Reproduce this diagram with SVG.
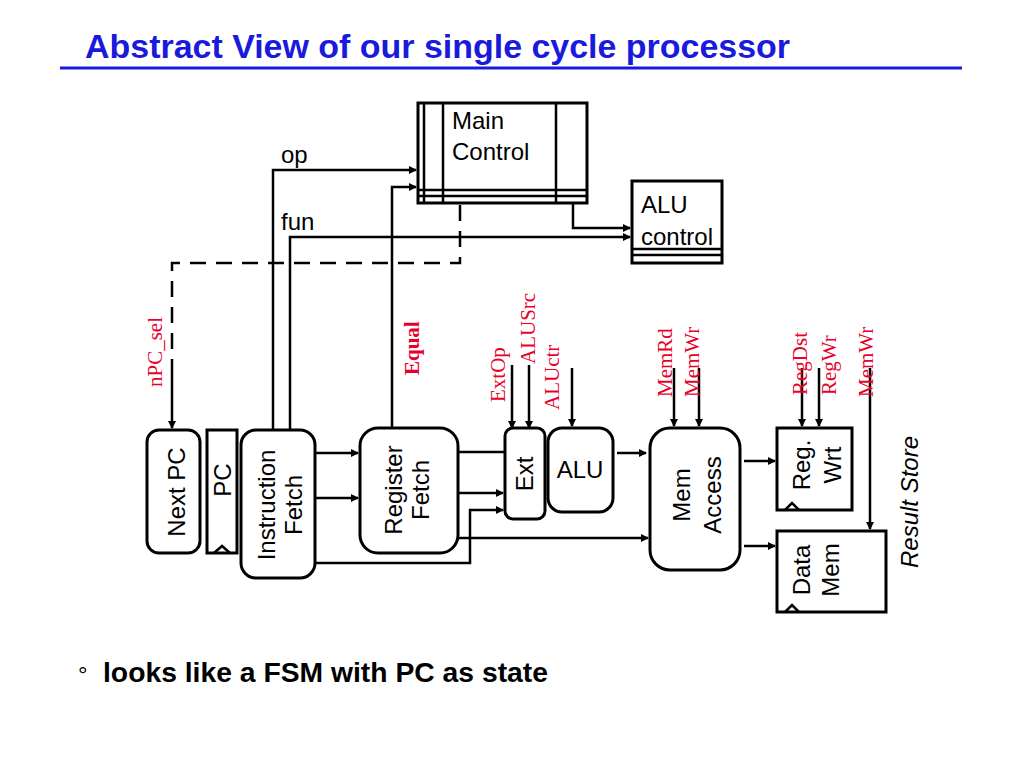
<svg xmlns="http://www.w3.org/2000/svg" width="1024" height="768" viewBox="0 0 1024 768">
<style>
.b{fill:#fff;stroke:#000;stroke-width:3}
.l{fill:none;stroke:#000;stroke-width:2.5}
.d{fill:none;stroke:#000;stroke-width:2.5;stroke-dasharray:16 10}
.t{font-family:"Liberation Sans",Arial,sans-serif;font-size:24px;fill:#000}
.r{font-family:"Liberation Serif","Times New Roman",serif;font-size:21px;fill:#e8002a}
</style>
<defs><marker id="a" markerWidth="8" markerHeight="8" refX="7" refY="4" orient="auto" markerUnits="userSpaceOnUse"><path d="M0,0L8,4L0,8z" fill="#000"/></marker></defs>
<rect width="1024" height="768" fill="#fff"/>
<text x="85" y="58" font-family="Liberation Sans,Arial,sans-serif" font-size="33" font-weight="bold" fill="#1a1adc" textLength="705" lengthAdjust="spacingAndGlyphs">Abstract View of our single cycle processor</text>
<line x1="60" y1="68" x2="962" y2="68" stroke="#1a1adc" stroke-width="3"/>
<g id="connectors">
<path class="l" d="M273,430V170H416" marker-end="url(#a)"/>
<path class="l" d="M392,428V187H416" marker-end="url(#a)"/>
<path class="l" d="M290,430V237H630" marker-end="url(#a)"/>
<path class="l" d="M573,203V228H630" marker-end="url(#a)"/>
<path class="d" d="M460,205V263H172V360"/>
<path class="l" d="M172,360V428" marker-end="url(#a)"/>
<path class="l" d="M315,453H358" marker-end="url(#a)"/>
<path class="l" d="M315,498H358" marker-end="url(#a)"/>
<path class="l" d="M458,452H546" marker-end="url(#a)"/>
<path class="l" d="M458,493H503" marker-end="url(#a)"/>
<path class="l" d="M315,563H470V510H503" marker-end="url(#a)"/>
<path class="l" d="M458,538H648" marker-end="url(#a)"/>
<path class="l" d="M617,453H646" marker-end="url(#a)"/>
<path class="l" d="M744,461H775" marker-end="url(#a)"/>
<path class="l" d="M744,546H775" marker-end="url(#a)"/>
<path class="l" d="M512,365V428" marker-end="url(#a)"/>
<path class="l" d="M529,365V428" marker-end="url(#a)"/>
<path class="l" d="M572,368V426" marker-end="url(#a)"/>
<path class="l" d="M674,368V426" marker-end="url(#a)"/>
<path class="l" d="M699,368V426" marker-end="url(#a)"/>
<path class="l" d="M802,368V426" marker-end="url(#a)"/>
<path class="l" d="M819,368V426" marker-end="url(#a)"/>
<path class="l" d="M870,368V529" marker-end="url(#a)"/>
</g>
<text class="t" x="281" y="163">op</text>
<text class="t" x="281" y="230">fun</text>
<g id="main-control">
<rect class="b" x="418" y="103" width="169" height="100"/>
<path class="l" d="M424,103V203M443,103V203M556,103V203M418,190H587M418,196H587"/>
<text class="t" x="452" y="129">Main</text><text class="t" x="452" y="160">Control</text>
</g>
<g id="alu-control">
<rect class="b" x="632" y="181" width="90" height="82"/>
<path class="l" d="M632,249H722M632,255H722"/>
<text class="t" x="641" y="213">ALU</text><text class="t" x="641" y="245">control</text>
</g>
<g id="next-pc"><rect class="b" x="147" y="430" width="53" height="123" rx="12"/>
<text class="t" transform="translate(185,492) rotate(-90)" text-anchor="middle">Next PC</text></g>
<g id="pc"><rect class="b" x="207" y="430" width="30" height="123"/>
<path class="l" d="M214,553L222,546L230,553"/>
<text class="t" transform="translate(231,480) rotate(-90)" text-anchor="middle">PC</text></g>
<g id="instruction-fetch"><rect class="b" x="241" y="430" width="74" height="148" rx="15"/>
<text class="t" transform="translate(275,505) rotate(-90)" text-anchor="middle">Instruction</text>
<text class="t" transform="translate(302,505) rotate(-90)" text-anchor="middle">Fetch</text></g>
<g id="register-fetch"><rect class="b" x="360" y="428" width="98" height="125" rx="18"/>
<text class="t" transform="translate(402,490) rotate(-90)" text-anchor="middle">Register</text>
<text class="t" transform="translate(429,490) rotate(-90)" text-anchor="middle">Fetch</text></g>
<g id="ext"><rect class="b" x="505" y="428" width="40" height="91" rx="8"/>
<text class="t" transform="translate(533,474) rotate(-90)" text-anchor="middle">Ext</text></g>
<g id="alu"><rect class="b" x="548" y="428" width="65" height="84" rx="14"/>
<text class="t" x="580" y="478" text-anchor="middle">ALU</text></g>
<g id="mem-access"><rect class="b" x="650" y="428" width="90" height="142" rx="20"/>
<text class="t" transform="translate(690,495) rotate(-90)" text-anchor="middle">Mem</text>
<text class="t" transform="translate(721,495) rotate(-90)" text-anchor="middle">Access</text></g>
<g id="reg-wrt"><rect class="b" x="777" y="428" width="75" height="82"/>
<path class="l" d="M785,510L792,503L799,510"/>
<text class="t" transform="translate(810,465) rotate(-90)" text-anchor="middle">Reg.</text>
<text class="t" transform="translate(841,465) rotate(-90)" text-anchor="middle">Wrt</text></g>
<g id="data-mem"><rect class="b" x="777" y="531" width="109" height="81"/>
<path class="l" d="M785,612L792,605L799,612"/>
<text class="t" transform="translate(810,570) rotate(-90)" text-anchor="middle">Data</text>
<text class="t" transform="translate(839,570) rotate(-90)" text-anchor="middle">Mem</text></g>
<text class="t" font-style="italic" transform="translate(918,502) rotate(-90)" text-anchor="middle">Result Store</text>
<g class="r">
<text transform="translate(162,387) rotate(-90)">nPC_sel</text>
<text transform="translate(419,375) rotate(-90)" font-weight="bold">Equal</text>
<text transform="translate(505,402) rotate(-90)">ExtOp</text>
<text transform="translate(535,364) rotate(-90)">ALUSrc</text>
<text transform="translate(559,410) rotate(-90)">ALUctr</text>
<text transform="translate(672,397) rotate(-90)">MemRd</text>
<text transform="translate(699,397) rotate(-90)">MemWr</text>
<text transform="translate(807,395) rotate(-90)">RegDst</text>
<text transform="translate(836,395) rotate(-90)">RegWr</text>
<text transform="translate(873,397) rotate(-90)">MemWr</text>
</g>
<text x="78" y="683" font-family="Liberation Sans,Arial,sans-serif" font-size="24" fill="#000">°</text>
<text x="103" y="682" font-family="Liberation Sans,Arial,sans-serif" font-size="27" font-weight="bold" fill="#000" textLength="445" lengthAdjust="spacingAndGlyphs">looks like a FSM with PC as state</text>
</svg>
